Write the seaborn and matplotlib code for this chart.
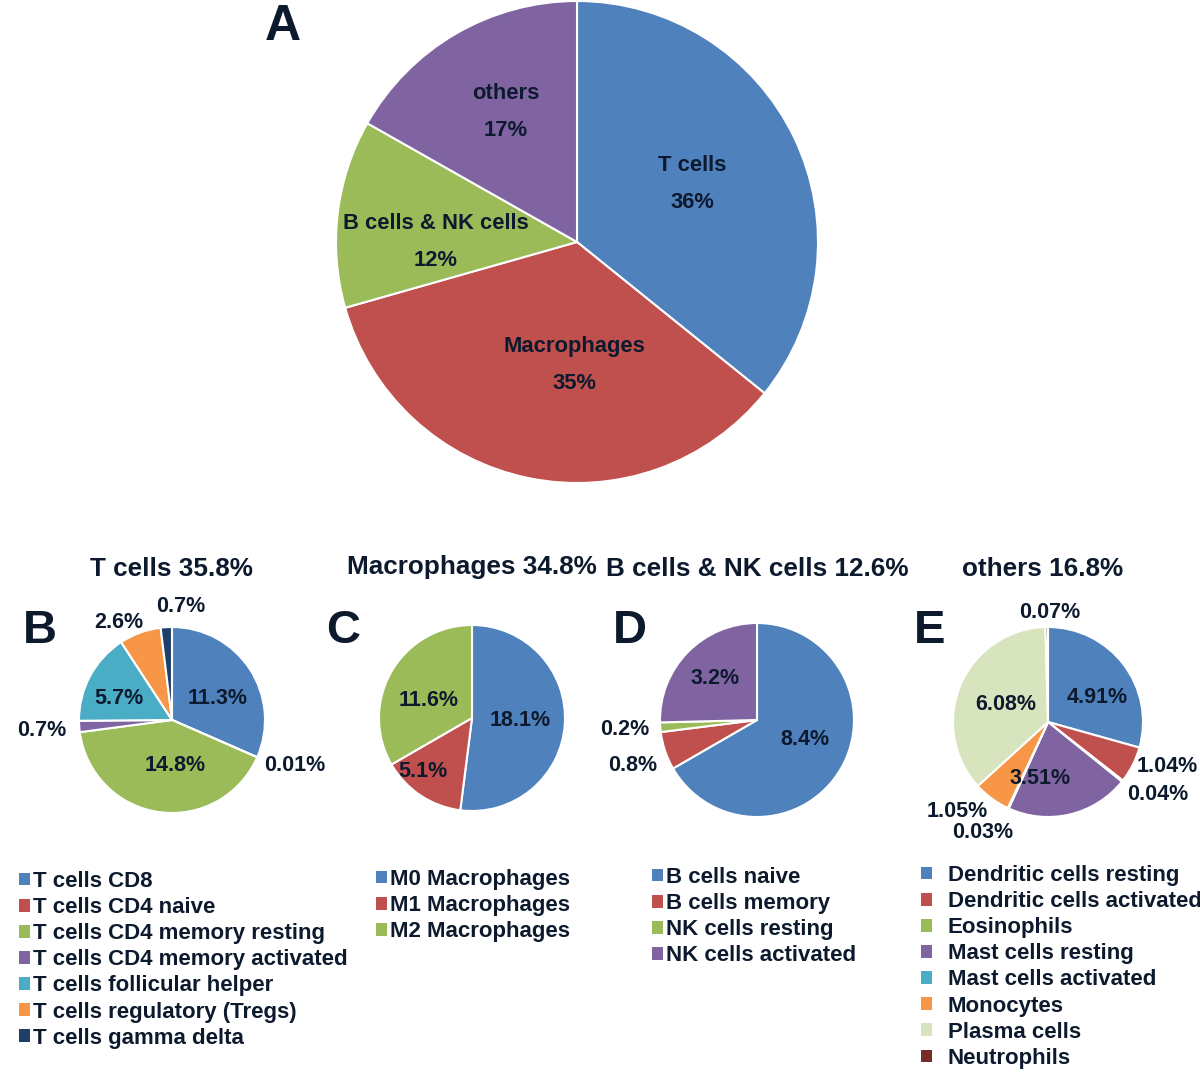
import matplotlib
matplotlib.use("Agg")
import matplotlib.pyplot as plt
from matplotlib.patches import Patch
import seaborn as sns

# ---- data ----
main_labels = ["T cells", "Macrophages", "B cells & NK cells", "others"]
main_values = [35.8, 34.8, 12.6, 16.8]
main_pct_text = ["36%", "35%", "12%", "17%"]

t_labels = ["T cells CD8", "T cells CD4 naive", "T cells CD4 memory resting",
            "T cells CD4 memory activated", "T cells follicular helper",
            "T cells regulatory (Tregs)", "T cells gamma delta"]
t_values = [11.3, 0.01, 14.8, 0.7, 5.7, 2.6, 0.7]
t_text = ["11.3%", "0.01%", "14.8%", "0.7%", "5.7%", "2.6%", "0.7%"]

mac_labels = ["M0 Macrophages", "M1 Macrophages", "M2 Macrophages"]
mac_values = [18.1, 5.1, 11.6]
mac_text = ["18.1%", "5.1%", "11.6%"]

bnk_labels = ["B cells naive", "B cells memory", "NK cells resting", "NK cells activated"]
bnk_values = [8.4, 0.8, 0.2, 3.2]
bnk_text = ["8.4%", "0.8%", "0.2%", "3.2%"]

oth_labels = ["Dendritic cells resting", "Dendritic cells activated", "Eosinophils",
              "Mast cells resting", "Mast cells activated", "Monocytes",
              "Plasma cells", "Neutrophils"]
oth_values = [4.91, 1.04, 0.04, 3.51, 0.03, 1.05, 6.08, 0.07]
oth_text = ["4.91%", "1.04%", "0.04%", "3.51%", "0.03%", "1.05%", "6.08%", "0.07%"]

titles = ["T cells 35.8%", "Macrophages 34.8%", "B cells & NK cells 12.6%", "others 16.8%"]

# colours (office-like palette)
pal = sns.color_palette(["#4F81BD", "#C0504D", "#9BBB59", "#8064A2",
                         "#4BACC6", "#F79646", "#D7E4BD", "#772C2A"])
t_cols = [pal[0], pal[1], pal[2], pal[3], pal[4], pal[5], "#1F3F6B"]
main_cols = [pal[0], pal[1], pal[2], pal[3]]

# ---- style ----
sns.set_theme(style="white")
plt.rcParams["font.family"] = ["Liberation Sans", "DejaVu Sans"]
plt.rcParams["font.weight"] = "bold"
INK = "#0d1a2e"

W, H = 1200, 1072
fig = plt.figure(figsize=(W / 100, H / 100), dpi=100)


def pie_axes(cx, cy, r):
    s = 2.2 * r
    ax = fig.add_axes([(cx - 1.1 * r) / W, 1 - (cy + 1.1 * r) / H, s / W, s / H])
    return ax


def draw_pie(ax, values, colors, texts, text_pos, size):
    ax.pie(values, colors=colors, startangle=90, counterclock=False,
           wedgeprops=dict(edgecolor="white", linewidth=1.5))
    ax.set_xlim(-1.1, 1.1)
    ax.set_ylim(-1.1, 1.1)
    ax.set_aspect("equal")
    ax.axis("off")
    for t, (x, y) in zip(texts, text_pos):
        ax.text(x, y, t, ha="center", va="center", fontsize=size,
                fontweight="bold", color=INK)


def ftext(px, py, s, size, va="center"):
    fig.text(px / W, 1 - py / H, s, ha="center", va=va, fontsize=size,
             fontweight="bold", color=INK)


def legend(labels, colors, px, py, pad):
    handles = [Patch(facecolor=c, edgecolor="none") for c in colors]
    fig.legend(handles, labels, loc="upper left",
               bbox_to_anchor=(px / W, 1 - py / H), frameon=False,
               handlelength=0.5, handleheight=0.5,
               handletextpad=pad, labelspacing=0.23, borderpad=0,
               borderaxespad=0, labelcolor=INK,
               prop=dict(weight="bold", size=16))


PCT = 15.5

# ---- A: main pie ----
axA = pie_axes(577, 242, 241)
draw_pie(axA, main_values, main_cols,
         [f"{l}\n{p}" for l, p in zip(main_labels, main_pct_text)],
         [(0.48, 0.24), (-0.01, -0.51), (-0.585, 0.0), (-0.295, 0.54)], 15.8)
for t in axA.texts:
    t.set_linespacing(2.0)
ftext(283, 40, "A", 36, va="baseline")

# ---- B: T cells ----
axB = pie_axes(172, 720, 93)
draw_pie(axB, t_values, t_cols, t_text,
         [(0.49, 0.23), (1.32, -0.49), (0.03, -0.49), (-1.40, -0.11),
          (-0.57, 0.23), (-0.57, 1.05), (0.09, 1.22)], PCT)
ftext(172, 569, titles[0], 18.8)
ftext(40, 643, "B", 34, va="baseline")
legend(t_labels, t_cols, 19, 871, 0.15)

# ---- C: Macrophages ----
axC = pie_axes(472, 718, 93)
draw_pie(axC, mac_values, pal[:3], mac_text,
         [(0.52, -0.03), (-0.53, -0.58), (-0.47, 0.19)], PCT)
ftext(472, 567, titles[1], 18.8)
ftext(343, 643, "C", 34, va="baseline")
legend(mac_labels, pal[:3], 376, 869, 0.15)

# ---- D: B cells & NK cells ----
axD = pie_axes(757, 720, 97)
draw_pie(axD, bnk_values, pal[:4], bnk_text,
         [(0.49, -0.20), (-1.28, -0.47), (-1.36, -0.10), (-0.43, 0.43)], PCT)
ftext(757, 569, titles[2], 18.8)
ftext(630, 643, "D", 34, va="baseline")
legend(bnk_labels, pal[:4], 652, 867, 0.15)

# ---- E: others ----
axE = pie_axes(1048, 722, 95)
draw_pie(axE, oth_values, list(pal), oth_text,
         [(0.52, 0.26), (1.26, -0.47), (1.16, -0.76), (-0.08, -0.60),
          (-0.69, -1.16), (-0.96, -0.94), (-0.45, 0.18), (0.02, 1.15)], PCT)
ftext(1043, 569, titles[3], 18.8)
ftext(930, 643, "E", 34, va="baseline")
legend(oth_labels, list(pal), 921, 865, 0.7)

fig.savefig("out.png", dpi=100, facecolor="white")
